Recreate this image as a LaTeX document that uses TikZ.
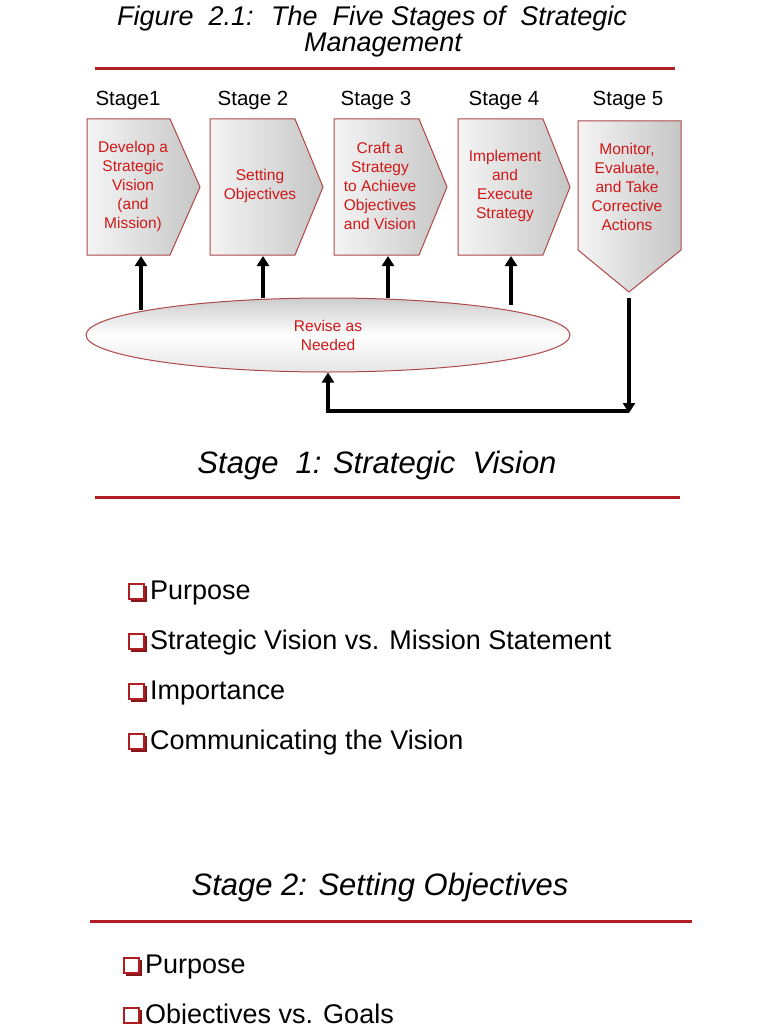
\documentclass[tikz,border=0pt]{standalone}
\usepackage{fontspec}
\setmainfont{Liberation Sans}
\usetikzlibrary{shapes.geometric,arrows.meta}
\definecolor{dred}{HTML}{B01E23}
\definecolor{tred}{HTML}{D01818}
\definecolor{bord}{HTML}{B04848}
\tikzset{
 boxshade/.style={draw=bord,line width=1pt,left color=gray!8,right color=gray!45},
 boxtxt/.style={text=tred,font=\fontsize{15.5}{19}\selectfont,align=center},
 stg/.style={font=\fontsize{20.5}{22}\selectfont},
 ttl/.style={font=\itshape\fontsize{27}{29}\selectfont},
 hdr/.style={font=\itshape\fontsize{31}{33}\selectfont},
 rule/.style={dred,line width=3pt},
 arr/.style={line width=3.5pt,-{Triangle[length=10pt,width=12pt]}},
 bul/.style={anchor=west,font=\fontsize{27}{29}\selectfont,inner sep=0pt},
}
\newcommand{\chk}[1]{\fill[dred!75!black] ([xshift=-19pt,yshift=7pt]#1.west) rectangle ++(16,16);
 \draw[dred,line width=1.3pt,fill=white] ([xshift=-21pt,yshift=9pt]#1.west) rectangle ++(15,15);}
\begin{document}
\begin{tikzpicture}[x=1pt,y=-1pt]
\useasboundingbox (0,0) rectangle (768,1024);
\fill[white] (0,0) rectangle (768,1024);
\node[ttl] (t1) at (372,19) {Figure \ 2.1: \ The \ Five Stages of \ Strategic};
\node[ttl] (t2) at (383,45) {Management};
\draw[rule] (95,69) -- (675,69);
\node[stg] (s1) at (128,100) {Stage1};
\node[stg] (s2) at (253,100) {Stage 2};
\node[stg] (s3) at (376,100) {Stage 3};
\node[stg] (s4) at (504,100) {Stage 4};
\node[stg] (s5) at (628,100) {Stage 5};
\draw[boxshade] (87,119) -- (170,119) -- (200,187) -- (170,255) -- (87,255) -- cycle;
\draw[boxshade] (210,119) -- (295,119) -- (323,187) -- (295,255) -- (210,255) -- cycle;
\draw[boxshade] (334,119) -- (419,119) -- (447,187) -- (419,255) -- (334,255) -- cycle;
\draw[boxshade] (458,119) -- (543,119) -- (570,187) -- (543,255) -- (458,255) -- cycle;
\draw[boxshade] (578,121) -- (681,121) -- (681,250) -- (629,292) -- (578,250) -- cycle;
\node[boxtxt] (b1) at (133,186) {Develop a\\Strategic\\Vision\\(and\\Mission)};
\node[boxtxt] (b2) at (260,186) {Setting\\Objectives};
\node[boxtxt] (b3) at (380,186) {Craft a\\Strategy\\to Achieve\\Objectives\\and Vision};
\node[boxtxt] (b4) at (505,186) {Implement\\and\\Execute\\Strategy};
\node[boxtxt] (b5) at (627,187) {Monitor,\\Evaluate,\\and Take\\Corrective\\Actions};
\node[ellipse,draw=bord,line width=1pt,top color=gray!40,bottom color=gray!20,middle color=white,
 minimum width=484pt,minimum height=74pt,inner sep=0pt,boxtxt] (rv) at (328,335) {Revise as\\Needed};
\coordinate (u1) at (141,256); \coordinate (u2) at (263,256); \coordinate (u3) at (388,256); \coordinate (u4) at (511,256);
\draw[arr] (141,310) -- (u1);
\draw[arr] (263,298) -- (u2);
\draw[arr] (388,298) -- (u3);
\draw[arr] (511,305) -- (u4);
\coordinate (f1) at (629,298); \coordinate (f2) at (629,413); \coordinate (f3) at (328,411);
\draw[arr] (f1) -- (f2);
\draw[arr] (629,411) -- (f3) -- (rv.south);
\node[hdr] (h1) at (377,465) {Stage \ 1: Strategic \ Vision};
\draw[rule] (95,497) -- (680,497);
\node[bul] (p1) at (150,593) {Purpose};
\node[bul] (p2) at (150,643) {Strategic Vision vs. Mission Statement};
\node[bul] (p3) at (150,693) {Importance};
\node[bul] (p4) at (150,743) {Communicating the Vision};
\chk{p1}\chk{p2}\chk{p3}\chk{p4}
\node[hdr] (h2) at (380,887) {Stage 2: Setting Objectives};
\draw[rule] (90,921) -- (692,921);
\node[bul] (q1) at (145,967) {Purpose};
\node[bul] (q2) at (145,1017) {Objectives vs. Goals};
\chk{q1}\chk{q2}
\end{tikzpicture}
\end{document}
